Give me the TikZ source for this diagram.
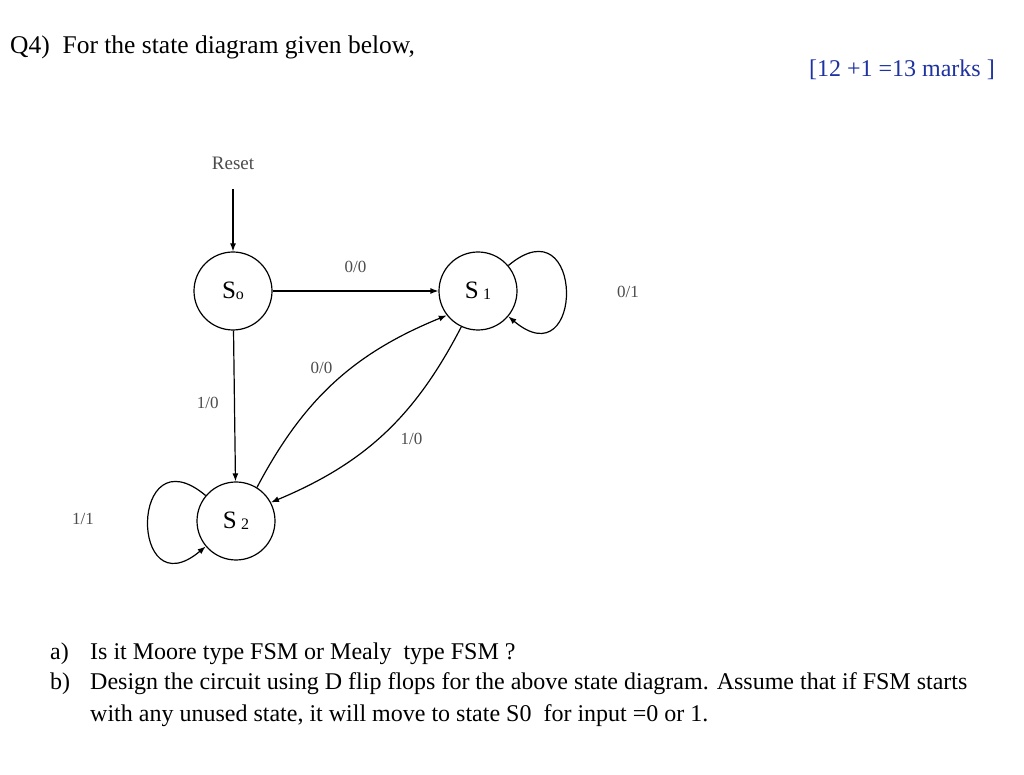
\documentclass[tikz,border=0pt]{standalone}
\usepackage{fontspec}
\setmainfont{Liberation Serif}
\usetikzlibrary{arrows.meta}
\begin{document}
\begin{tikzpicture}[x=1pt,y=1pt,
  st/.style={circle,draw,line width=1.2pt,minimum size=78pt,inner sep=0pt,font=\fontsize{25}{27}\selectfont},
  lbl/.style={font=\fontsize{17}{18}\selectfont,text=black!70},
  txt/.style={font=\fontsize{24}{28}\selectfont,inner sep=0pt},
  arr/.style={-{Latex[length=8pt,width=6pt]},line width=1.2pt}]
\useasboundingbox (0,0) rectangle (1024,775);
\node[txt,anchor=base west,font=\fontsize{25.5}{28}\selectfont] (q) at (10,721) {Q4)\ \ For the state diagram given below,};
\node[txt,anchor=base east,text={rgb,255:red,30;green,50;blue,160}] (m) at (995,698) {[12 +1 =13 marks ]};
\node[lbl,font=\fontsize{19}{20}\selectfont] (reset) at (233,612) {Reset};
\coordinate (rs) at (233,586);
\node[st] (S0) at (233,484) {S\raisebox{-1pt}{\fontsize{16}{16}\selectfont o}};
\node[st] (S1) at (478,484) {S\,\raisebox{-1pt}{\fontsize{16}{16}\selectfont 1}};
\node[st] (S2) at (236,254) {S\,\raisebox{-1pt}{\fontsize{16}{16}\selectfont 2}};
\draw[arr] (rs) -- (S0);
\draw[arr] (S0) -- (S1) node[lbl,midway,above=14pt] {0/0};
\draw[arr] (S0) -- (S2) node[lbl,pos=0.48,left=12pt] {1/0};
\draw[arr] (S1.40) .. controls +(40:100) and +(-40:100) .. (S1.-40);
\draw[arr] (S2.140) .. controls +(140:100) and +(220:100) .. (S2.-140);
\draw[arr] (S2.58) to[bend left=20] node[lbl,pos=0.52,above left=2pt] {0/0} (S1.218);
\draw[arr] (S1.245) to[bend left=20] node[lbl,pos=0.45,below right=4pt] {1/0} (S2.28);
\node[lbl] (l1) at (628,483) {0/1};
\node[lbl] (l2) at (83,256) {1/1};
\node[txt,anchor=base west] (a) at (50,115) {a)};
\node[txt,anchor=base west] (at) at (90,115) {Is it Moore type FSM or Mealy\ \ type FSM ?};
\node[txt,anchor=base west] (b) at (50,85) {b)};
\node[txt,anchor=base west] (bt) at (90,85) {Design the circuit using D flip flops for the above state diagram. Assume that if FSM starts};
\node[txt,anchor=base west] (bt2) at (90,53) {with any unused state, it will move to state S0\ \ for input =0 or 1.};
\end{tikzpicture}
\end{document}
